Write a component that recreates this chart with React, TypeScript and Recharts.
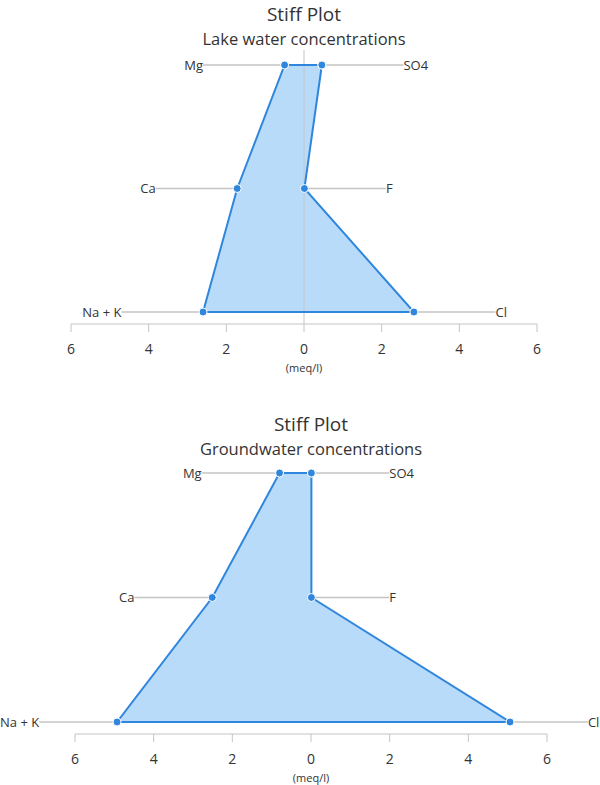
import { Area, ComposedChart, Line, ReferenceLine, XAxis, YAxis } from 'recharts'

// row 0 is the top line of the diagram (vertical layout runs top -> bottom)
const rows = [0, 1, 2]
const cations = ['Mg', 'Ca', 'Na + K']
const anions = ['SO4', 'F', 'Cl']
const ticks = [-6, -4, -2, 0, 2, 4, 6]

const lakeCations = [0.5, 1.72, 2.6]
const lakeAnions = [0.46, 0.01, 2.83]

const groundCations = [0.8, 2.51, 4.93]
const groundAnions = [0.01, 0.01, 5.06]

const BLUE = '#2f86dc'
const GREY = '#c4c4c4'
const FONT = '"Open Sans", "DejaVu Sans", sans-serif'
const W = 600
const H = 410

type Margin = { top: number; right: number; bottom: number; left: number }

function StiffPlot({
  subtitle,
  left,
  right,
  margin,
  reach,
  axisAtZero,
}: {
  subtitle: string
  left: number[]
  right: number[]
  margin: Margin
  reach: number
  axisAtZero: boolean
}) {
  const area = rows.map((row, i) => ({ row, span: [-left[i], right[i]] }))
  // outline: down the anion side, back up the cation side, closed at the top
  const outline = [
    ...rows.map((row, i) => ({ row, v: right[i] })),
    ...rows
      .map((row, i) => ({ row, v: -left[i] }))
      .reverse(),
    { row: rows[0], v: right[0] },
  ]
  const cx = (margin.left + W - margin.right) / 2
  const labelStyle = { fill: '#333', fontSize: 13, fontFamily: FONT }

  return (
    <div style={{ position: 'relative', width: W, height: H }}>
      <div
        style={{
          position: 'absolute',
          left: cx - 200,
          width: 400,
          top: 1,
          textAlign: 'center',
          fontFamily: FONT,
          color: '#333',
          fontSize: 19,
          lineHeight: '26px',
        }}
      >
        Stiff Plot
      </div>
      <div
        style={{
          position: 'absolute',
          left: cx - 200,
          width: 400,
          top: 28,
          textAlign: 'center',
          fontFamily: FONT,
          color: '#333',
          fontSize: 16.5,
          lineHeight: '22px',
        }}
      >
        {subtitle}
      </div>
      <ComposedChart
        width={W}
        height={H}
        layout="vertical"
        margin={margin}
        style={{ position: 'absolute', left: 0, top: 0 }}
      >
        <XAxis
          type="number"
          domain={[-6, 6]}
          ticks={ticks}
          tickFormatter={(v: number) => `${Math.abs(v)}`}
          stroke={GREY}
          tickSize={8}
          tickMargin={12}
          height={60}
          tick={{ fill: '#333', fontSize: 14, fontFamily: FONT }}
          label={{
            value: '(meq/l)',
            position: 'insideBottom',
            offset: 12,
            fill: '#333',
            fontSize: 11,
            fontFamily: FONT,
          }}
        />
        <YAxis
          type="number"
          dataKey="row"
          domain={[0, 2]}
          padding={{ top: 15, bottom: 12 }}
          hide={axisAtZero}
          width={0}
          tick={false}
          tickLine={false}
          axisLine={{ stroke: '#dcdcdc', strokeWidth: 2 }}
        />
        {axisAtZero && <ReferenceLine x={0} stroke={GREY} strokeWidth={1} />}
        {rows.map((row, i) => (
          <ReferenceLine
            key={`l${row}`}
            segment={[
              { x: -left[i] - reach, y: row },
              { x: -left[i], y: row },
            ]}
            ifOverflow="visible"
            stroke={GREY}
            strokeWidth={1.5}
            label={{ value: cations[i], position: 'left', offset: 0, ...labelStyle }}
          />
        ))}
        {rows.map((row, i) => (
          <ReferenceLine
            key={`r${row}`}
            segment={[
              { x: right[i], y: row },
              { x: right[i] + reach, y: row },
            ]}
            ifOverflow="visible"
            stroke={GREY}
            strokeWidth={1.5}
            label={{ value: anions[i], position: 'right', offset: 0, ...labelStyle }}
          />
        ))}
        <Area
          data={area}
          dataKey="span"
          type="linear"
          stroke="none"
          fill="#3d9af0"
          fillOpacity={0.36}
          isAnimationActive={false}
          activeDot={false}
        />
        <Line
          data={outline}
          dataKey="v"
          type="linear"
          stroke={BLUE}
          strokeWidth={2}
          dot={{ r: 4, fill: BLUE, stroke: '#fff', strokeWidth: 1 }}
          activeDot={false}
          isAnimationActive={false}
        />
      </ComposedChart>
    </div>
  )
}

export default function App() {
  return (
    <div
      style={{
        position: 'absolute',
        left: 0,
        top: 0,
        width: W,
        height: 785,
        overflow: 'hidden',
        background: '#fff',
      }}
    >
      <StiffPlot
        subtitle="Lake water concentrations"
        left={lakeCations}
        right={lakeAnions}
        margin={{ top: 50, right: 63, bottom: 26, left: 71 }}
        reach={2.1}
        axisAtZero
      />
      <StiffPlot
        subtitle="Groundwater concentrations"
        left={groundCations}
        right={groundAnions}
        margin={{ top: 48, right: 53, bottom: 26, left: 75 }}
        reach={1.98}
        axisAtZero={false}
      />
    </div>
  )
}
